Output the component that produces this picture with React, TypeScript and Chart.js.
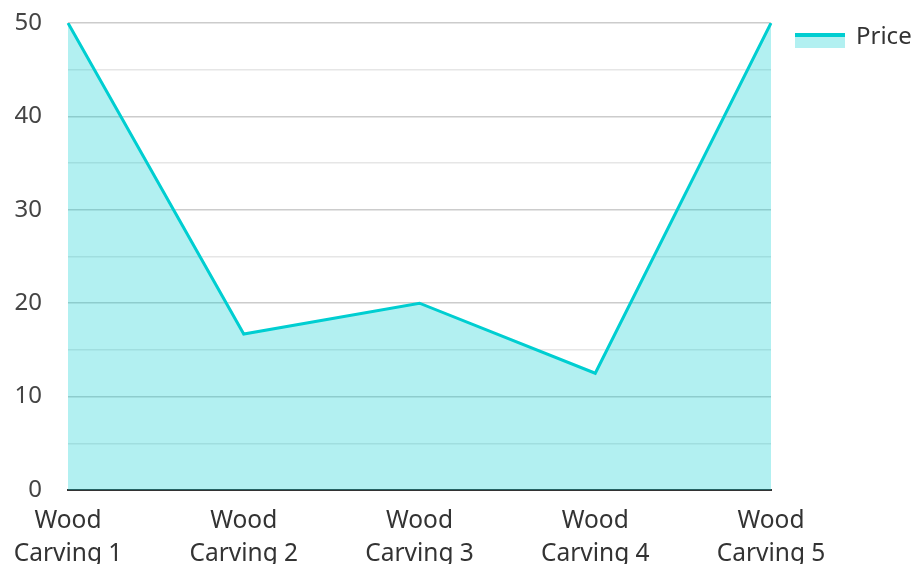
import React, { useEffect, useRef } from "react";
import { Chart, registerables } from "chart.js";

Chart.register(...registerables);

const categories: string[][] = [
  ["Wood", "Carving 1"],
  ["Wood", "Carving 2"],
  ["Wood", "Carving 3"],
  ["Wood", "Carving 4"],
  ["Wood", "Carving 5"],
];
const priceValues: number[] = [50, 16.7, 20, 12.5, 50];
const seriesName = "Price";

const LINE = "#00ced1";
const FILL = "rgba(0, 206, 209, 0.3)";
const FONT = "'Noto Sans', 'Open Sans', sans-serif";

function makeLegendIcon(): HTMLCanvasElement {
  const c = document.createElement("canvas");
  c.width = 50;
  c.height = 24;
  const ctx = c.getContext("2d")!;
  ctx.fillStyle = FILL;
  ctx.fillRect(0, 8, 50, 15);
  ctx.fillStyle = LINE;
  ctx.fillRect(0, 8, 50, 4);
  return c;
}

export default function App() {
  const ref = useRef<HTMLCanvasElement | null>(null);

  useEffect(() => {
    if (!ref.current) return;
    const icon = makeLegendIcon();
    const chart = new Chart(ref.current, {
      type: "line",
      data: {
        labels: categories,
        datasets: [
          {
            label: seriesName,
            data: priceValues,
            borderColor: LINE,
            backgroundColor: FILL,
            borderWidth: 3,
            fill: "origin",
            pointRadius: 0,
            pointHoverRadius: 0,
            tension: 0,
            pointStyle: icon as any,
          },
        ],
      },
      options: {
        animation: false,
        responsive: true,
        maintainAspectRatio: false,
        layout: { padding: { top: 0, left: 14, right: 0, bottom: 0 } },
        plugins: {
          tooltip: { enabled: false },
          legend: {
            position: "right",
            align: "start",
            maxWidth: 141,
            labels: {
              usePointStyle: true,
              pointStyleWidth: 48,
              color: "#333",
              font: { family: FONT, size: 24 },
              padding: 25,
            },
          },
        },
        scales: {
          x: {
            offset: false,
            afterFit: (scale: any) => {
              scale.paddingLeft = 0;
              scale.paddingRight = 0;
              scale.height = 74;
            },
            grid: { display: false, drawTicks: false },
            border: { display: true, color: "#333", width: 2 },
            ticks: {
              color: "#333",
              font: { family: FONT, size: 24.5, lineHeight: 1.35 },
              padding: 14,
              maxRotation: 0,
              autoSkip: false,
            },
          },
          y: {
            min: 0,
            max: 50,
            afterFit: (scale: any) => {
              scale.paddingTop = 23;
              scale.paddingBottom = 0;
              scale.width = 54;
            },
            grid: {
              drawTicks: false,
              color: (ctx: any) =>
                ctx.tick && ctx.tick.value % 10 === 0 ? "#cccccc" : "#e6e6e6",
              lineWidth: 1.5,
            },
            border: { display: false },
            ticks: {
              stepSize: 5,
              color: "#444",
              padding: 26,
              font: { family: FONT, size: 24 },
              callback: (v: any) => (Number(v) % 10 === 0 ? String(v) : ""),
            },
          },
        },
      },
    });
    return () => chart.destroy();
  }, []);

  return (
    <div style={{ position: "fixed", left: 0, top: 0, width: 912, height: 564, background: "#fff" }}>
      <canvas ref={ref} />
    </div>
  );
}
